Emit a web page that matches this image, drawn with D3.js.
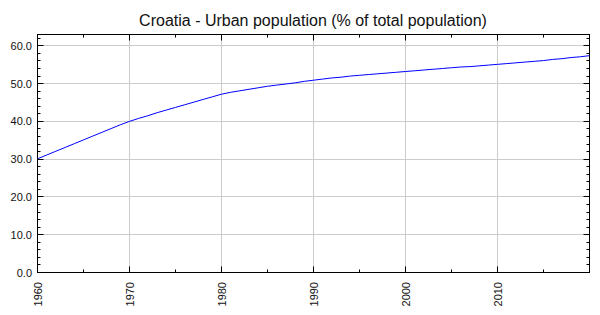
<!DOCTYPE html>
<html>
<head>
<meta charset="utf-8">
<script src="https://cdn.jsdelivr.net/npm/d3@7"></script>
<style>
  body { margin: 0; background: #fff; }
  svg { display: block; font-family: "Liberation Sans", Arial, sans-serif; }
</style>
</head>
<body>
<div id="chart"></div>
<script>
// urban population, % of total
const years = d3.range(1960, 2021);
const urbanPct = [
  30.1, 31.1, 32.1, 33.1, 34.1, 35.1, 36.1, 37.1, 38.1, 39.1,
  40.0, 40.8, 41.5, 42.3, 43.0, 43.7, 44.4, 45.1, 45.8, 46.5,
  47.2, 47.7, 48.1, 48.5, 48.9, 49.3, 49.6, 49.9, 50.2, 50.6,
  50.9, 51.2, 51.5, 51.7, 52.0, 52.2, 52.4, 52.6, 52.8, 53.0,
  53.2, 53.4, 53.6, 53.8, 54.0, 54.2, 54.4, 54.5, 54.7, 54.9,
  55.1, 55.3, 55.5, 55.7, 55.9, 56.1, 56.4, 56.6, 56.9, 57.1,
  57.4
];
const xTicks = [1960, 1970, 1980, 1990, 2000, 2010];
const xMinor = d3.range(1965, 2020, 10);
const yTicks = [0, 10, 20, 30, 40, 50, 60];
const yMinor = d3.range(0, 63, 2).filter(v => v % 10 !== 0);
const title = "Croatia - Urban population (% of total population)";

const W = 600, H = 315;
const plotL = 37.5, plotR = 589.5, plotT = 34.5, plotB = 272.5;

const svg = d3.select("#chart").append("svg")
    .attr("width", W)
    .attr("height", H);

svg.append("rect").attr("width", W).attr("height", H).attr("fill", "#fff");

const x = d3.scaleLinear().domain([1960, 2020]).range([plotL, plotR]);
const y = d3.scaleLinear().domain([0, 63]).range([plotB, plotT]);

const snap = v => Math.round(v - 0.5) + 0.5;

// grid
svg.append("g").selectAll("line")
    .data(xTicks.slice(1))
    .enter().append("line")
    .attr("x1", d => snap(x(d))).attr("x2", d => snap(x(d)))
    .attr("y1", plotT).attr("y2", plotB)
    .attr("stroke", "#cccccc");
svg.append("g").selectAll("line")
    .data(yTicks.slice(1))
    .enter().append("line")
    .attr("x1", plotL).attr("x2", plotR)
    .attr("y1", d => snap(y(d))).attr("y2", d => snap(y(d)))
    .attr("stroke", "#cccccc");

// series
const line = d3.line()
    .x((d, i) => x(years[i]))
    .y(d => y(d));
svg.append("path")
    .datum(urbanPct)
    .attr("d", line)
    .attr("fill", "none")
    .attr("stroke", "#0000ff")
    .attr("stroke-width", 1);

// frame
svg.append("rect")
    .attr("x", plotL).attr("y", plotT)
    .attr("width", plotR - plotL).attr("height", plotB - plotT)
    .attr("fill", "none").attr("stroke", "#000");

// inward ticks on all four sides
const tk = svg.append("g").attr("stroke", "#000");
function xTickMarks(data, len) {
  data.forEach(d => {
    const px = snap(x(d));
    tk.append("line").attr("x1", px).attr("x2", px).attr("y1", plotB).attr("y2", plotB - len);
    tk.append("line").attr("x1", px).attr("x2", px).attr("y1", plotT).attr("y2", plotT + len);
  });
}
function yTickMarks(data, len) {
  data.forEach(d => {
    const py = snap(y(d));
    tk.append("line").attr("x1", plotL).attr("x2", plotL + len).attr("y1", py).attr("y2", py);
    tk.append("line").attr("x1", plotR).attr("x2", plotR - len).attr("y1", py).attr("y2", py);
  });
}
xTickMarks(xTicks.slice(1), 6);
xTickMarks(xMinor, 3);
yTickMarks(yTicks.slice(1), 6);
yTickMarks(yMinor, 3);

// y labels
svg.append("g").selectAll("text")
    .data(yTicks)
    .enter().append("text")
    .attr("x", 32)
    .attr("y", d => y(d) + 4)
    .attr("text-anchor", "end")
    .attr("font-size", 11)
    .attr("fill", "#111")
    .text(d => d.toFixed(1));

// x labels, rotated
svg.append("g").selectAll("text")
    .data(xTicks)
    .enter().append("text")
    .attr("transform", d => "translate(" + (x(d) + 4) + ",282) rotate(-90)")
    .attr("text-anchor", "end")
    .attr("font-size", 11)
    .attr("fill", "#111")
    .text(d => d);

// title
svg.append("text")
    .attr("x", 313)
    .attr("y", 26)
    .attr("text-anchor", "middle")
    .attr("font-size", 16)
    .attr("fill", "#111")
    .text(title);
</script>
</body>
</html>
